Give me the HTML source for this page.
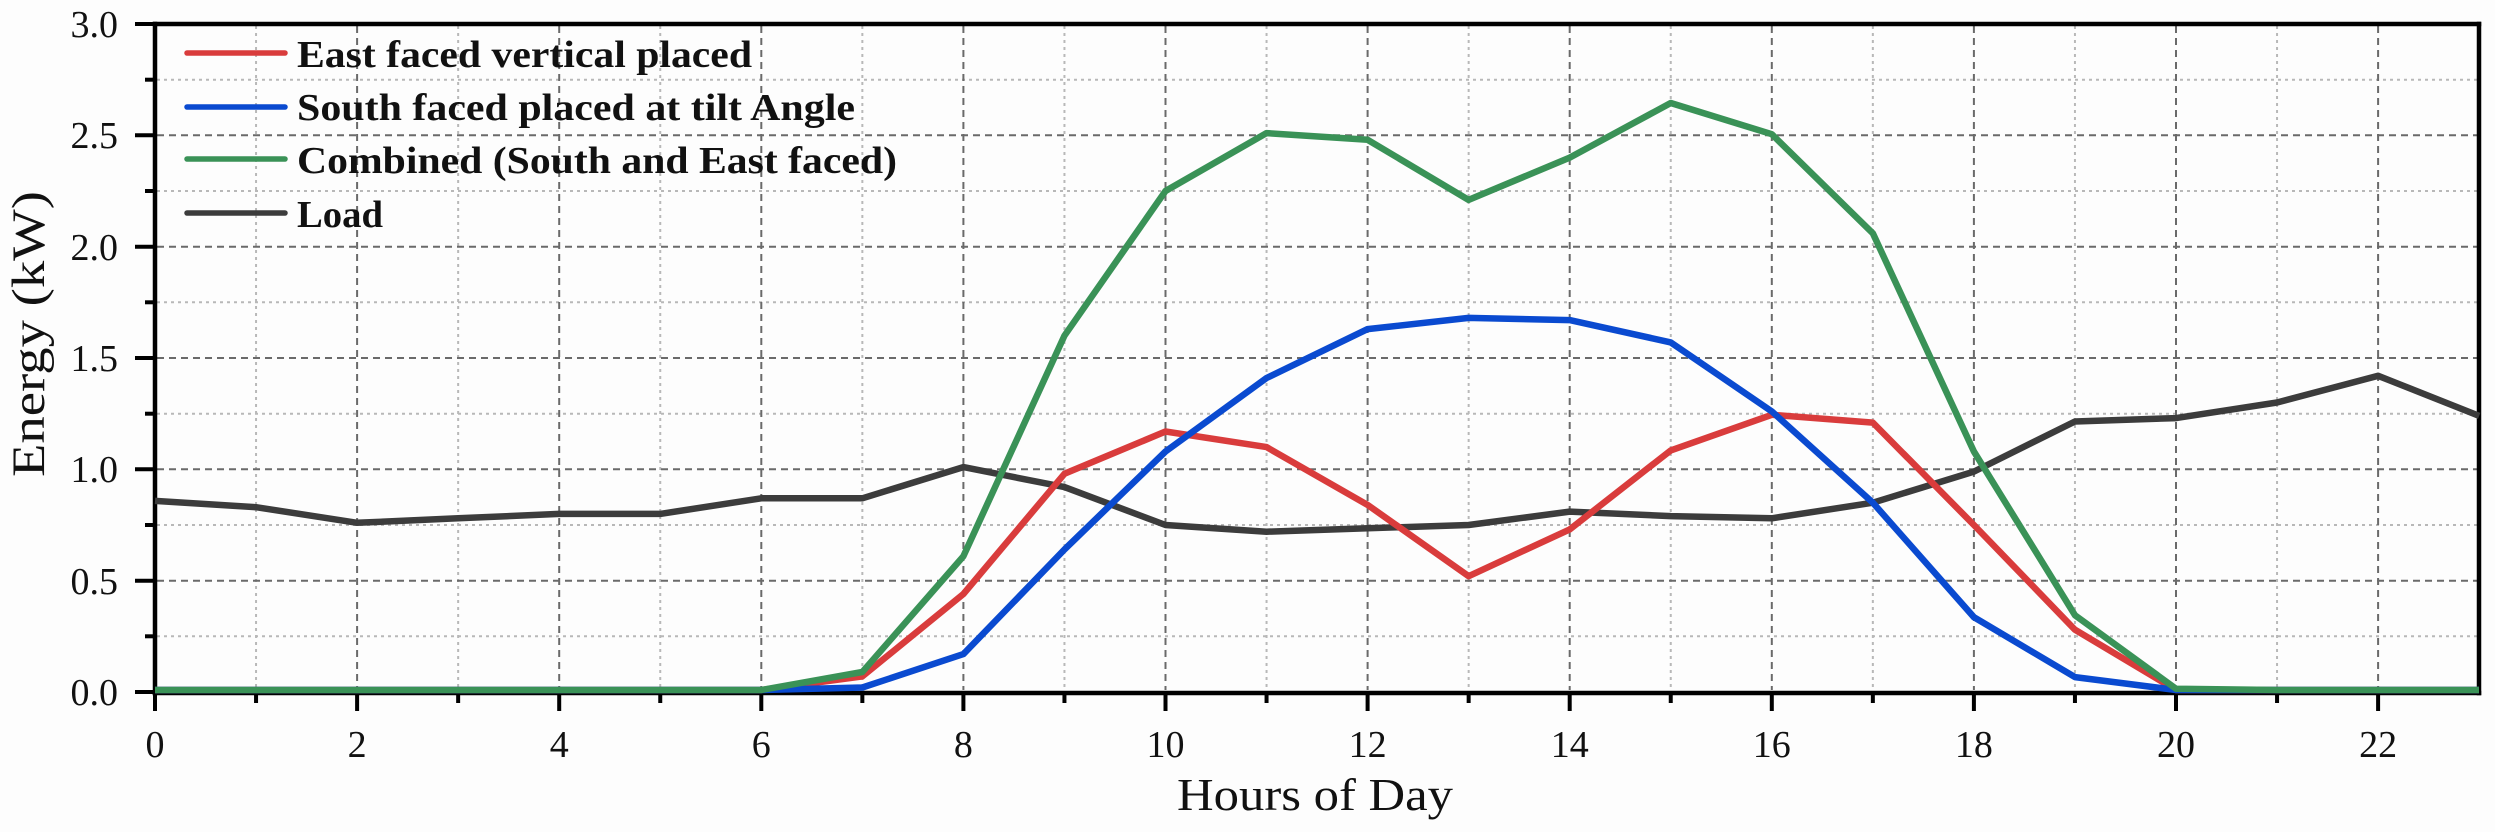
<!DOCTYPE html>
<html>
<head>
<meta charset="utf-8">
<style>
  html, body { margin:0; padding:0; background:#ffffff; }
  svg { display:block; }
  text { font-family: "Liberation Serif", "Times New Roman", serif; fill:#111; }
</style>
</head>
<body>
<svg width="2495" height="832" viewBox="0 0 2495 832" xmlns="http://www.w3.org/2000/svg">
  <rect x="0" y="0" width="2495" height="832" fill="#fdfdfd"/>

  <!-- minor vertical grid (odd hours) -->
  <g stroke="#b8b8b8" stroke-width="2" stroke-dasharray="3 4" fill="none">
    <line x1="256.05" y1="26" x2="256.05" y2="690"/>
    <line x1="458.15" y1="26" x2="458.15" y2="690"/>
    <line x1="660.25" y1="26" x2="660.25" y2="690"/>
    <line x1="862.35" y1="26" x2="862.35" y2="690"/>
    <line x1="1064.45" y1="26" x2="1064.45" y2="690"/>
    <line x1="1266.55" y1="26" x2="1266.55" y2="690"/>
    <line x1="1468.65" y1="26" x2="1468.65" y2="690"/>
    <line x1="1670.75" y1="26" x2="1670.75" y2="690"/>
    <line x1="1872.85" y1="26" x2="1872.85" y2="690"/>
    <line x1="2074.95" y1="26" x2="2074.95" y2="690"/>
    <line x1="2277.05" y1="26" x2="2277.05" y2="690"/>
  </g>
  <!-- minor horizontal grid -->
  <g stroke="#b8b8b8" stroke-width="2" stroke-dasharray="3 4" fill="none">
    <line x1="157" y1="636.3" x2="2477" y2="636.3"/>
    <line x1="157" y1="525.0" x2="2477" y2="525.0"/>
    <line x1="157" y1="413.7" x2="2477" y2="413.7"/>
    <line x1="157" y1="302.3" x2="2477" y2="302.3"/>
    <line x1="157" y1="191.0" x2="2477" y2="191.0"/>
    <line x1="157" y1="79.7" x2="2477" y2="79.7"/>
  </g>
  <!-- major vertical grid (even hours) -->
  <g stroke="#6a6a6a" stroke-width="2" stroke-dasharray="7 5" fill="none">
    <line x1="357.1" y1="26" x2="357.1" y2="690"/>
    <line x1="559.2" y1="26" x2="559.2" y2="690"/>
    <line x1="761.3" y1="26" x2="761.3" y2="690"/>
    <line x1="963.4" y1="26" x2="963.4" y2="690"/>
    <line x1="1165.5" y1="26" x2="1165.5" y2="690"/>
    <line x1="1367.6" y1="26" x2="1367.6" y2="690"/>
    <line x1="1569.7" y1="26" x2="1569.7" y2="690"/>
    <line x1="1771.8" y1="26" x2="1771.8" y2="690"/>
    <line x1="1973.9" y1="26" x2="1973.9" y2="690"/>
    <line x1="2176" y1="26" x2="2176" y2="690"/>
    <line x1="2378.1" y1="26" x2="2378.1" y2="690"/>
  </g>
  <!-- major horizontal grid -->
  <g stroke="#6a6a6a" stroke-width="2" stroke-dasharray="7 5" fill="none">
    <line x1="157" y1="580.7" x2="2477" y2="580.7"/>
    <line x1="157" y1="469.3" x2="2477" y2="469.3"/>
    <line x1="157" y1="358.0" x2="2477" y2="358.0"/>
    <line x1="157" y1="246.7" x2="2477" y2="246.7"/>
    <line x1="157" y1="135.3" x2="2477" y2="135.3"/>
  </g>

  <!-- axes frame -->
  <g stroke="#000" stroke-width="4.5" fill="none" stroke-linecap="square">
    <line x1="155" y1="24" x2="2479" y2="24"/>
    <line x1="2479" y1="24" x2="2479" y2="693"/>
    <line x1="155" y1="24" x2="155" y2="693"/>
    <line x1="155" y1="693" x2="2479" y2="693"/>
  </g>
  <!-- x ticks -->
  <g stroke="#000" stroke-width="4" fill="none">
    <line x1="155" y1="693" x2="155" y2="711"/>
    <line x1="357.1" y1="693" x2="357.1" y2="711"/>
    <line x1="559.2" y1="693" x2="559.2" y2="711"/>
    <line x1="761.3" y1="693" x2="761.3" y2="711"/>
    <line x1="963.4" y1="693" x2="963.4" y2="711"/>
    <line x1="1165.5" y1="693" x2="1165.5" y2="711"/>
    <line x1="1367.6" y1="693" x2="1367.6" y2="711"/>
    <line x1="1569.7" y1="693" x2="1569.7" y2="711"/>
    <line x1="1771.8" y1="693" x2="1771.8" y2="711"/>
    <line x1="1973.9" y1="693" x2="1973.9" y2="711"/>
    <line x1="2176" y1="693" x2="2176" y2="711"/>
    <line x1="2378.1" y1="693" x2="2378.1" y2="711"/>
    <line x1="256.05" y1="693" x2="256.05" y2="703"/>
    <line x1="458.15" y1="693" x2="458.15" y2="703"/>
    <line x1="660.25" y1="693" x2="660.25" y2="703"/>
    <line x1="862.35" y1="693" x2="862.35" y2="703"/>
    <line x1="1064.45" y1="693" x2="1064.45" y2="703"/>
    <line x1="1266.55" y1="693" x2="1266.55" y2="703"/>
    <line x1="1468.65" y1="693" x2="1468.65" y2="703"/>
    <line x1="1670.75" y1="693" x2="1670.75" y2="703"/>
    <line x1="1872.85" y1="693" x2="1872.85" y2="703"/>
    <line x1="2074.95" y1="693" x2="2074.95" y2="703"/>
    <line x1="2277.05" y1="693" x2="2277.05" y2="703"/>
  </g>
  <!-- y ticks -->
  <g stroke="#000" stroke-width="4" fill="none">
    <line x1="135" y1="692" x2="155" y2="692"/>
    <line x1="135" y1="580.7" x2="155" y2="580.7"/>
    <line x1="135" y1="469.3" x2="155" y2="469.3"/>
    <line x1="135" y1="358.0" x2="155" y2="358.0"/>
    <line x1="135" y1="246.7" x2="155" y2="246.7"/>
    <line x1="135" y1="135.3" x2="155" y2="135.3"/>
    <line x1="135" y1="24" x2="155" y2="24"/>
    <line x1="145" y1="636.3" x2="155" y2="636.3"/>
    <line x1="145" y1="525.0" x2="155" y2="525.0"/>
    <line x1="145" y1="413.7" x2="155" y2="413.7"/>
    <line x1="145" y1="302.3" x2="155" y2="302.3"/>
    <line x1="145" y1="191.0" x2="155" y2="191.0"/>
    <line x1="145" y1="79.7" x2="155" y2="79.7"/>
  </g>

  <!-- data series -->
  <g fill="none" stroke-width="6.5" stroke-linejoin="round" stroke-linecap="butt">
    <!-- Load -->
    <polyline stroke="#3c3c3c" points="155,500.9 256.05,507.2 357.1,522.8 458.15,518.3 559.2,513.9 660.25,513.9 761.3,498.3 862.35,498.3 963.4,467.1 1064.45,487.1 1165.5,525.0 1266.55,531.7 1367.6,528.3 1468.65,525.0 1569.7,511.6 1670.75,516.1 1771.8,518.3 1872.85,502.7 1973.9,471.6 2074.95,421.5 2176,418.1 2277.05,402.5 2378.1,375.8 2479.15,415.9"/>
    <!-- East (red) -->
    <polyline stroke="#d93c3c" points="155,690 761.3,690 862.35,676.4 963.4,594.0 1064.45,473.8 1165.5,431.5 1266.55,447.1 1367.6,504.9 1468.65,576.2 1569.7,529.4 1670.75,450.4 1771.8,414.8 1872.85,422.6 1973.9,525.0 2074.95,629.7 2176,690 2479,690"/>
    <!-- South (blue) -->
    <polyline stroke="#0a4ad0" points="155,690 761.3,690 862.35,687.5 963.4,654.1 1064.45,549.5 1165.5,451.5 1266.55,378.0 1367.6,329.1 1468.65,317.9 1569.7,320.1 1670.75,342.4 1771.8,411.4 1872.85,502.7 1973.9,617.2 2074.95,677.1 2176,690 2479,690"/>
    <!-- Combined (green) -->
    <polyline stroke="#3a9257" points="155,690 761.3,690 862.35,672.0 963.4,556.2 1064.45,335.7 1165.5,191.0 1266.55,133.1 1367.6,139.8 1468.65,199.9 1569.7,157.6 1670.75,103.0 1771.8,134.2 1872.85,233.3 1973.9,451.5 2074.95,615.2 2176,688.7 2277.05,690 2479,690"/>
  </g>

  <!-- legend -->
  <g stroke-width="5.5" stroke-linecap="round">
    <line x1="187" y1="53" x2="285" y2="53" stroke="#d93c3c"/>
    <line x1="187" y1="107" x2="285" y2="107" stroke="#0a4ad0"/>
    <line x1="187" y1="159" x2="285" y2="159" stroke="#3a9257"/>
    <line x1="187" y1="213" x2="285" y2="213" stroke="#3c3c3c"/>
  </g>
  <g font-size="38" font-weight="bold">
    <text x="297" y="67" textLength="455" lengthAdjust="spacingAndGlyphs">East faced vertical placed</text>
    <text x="297" y="120" textLength="558" lengthAdjust="spacingAndGlyphs">South faced placed at tilt Angle</text>
    <text x="297" y="173" textLength="600" lengthAdjust="spacingAndGlyphs">Combined (South and East faced)</text>
    <text x="297" y="227" textLength="86" lengthAdjust="spacingAndGlyphs">Load</text>
  </g>

  <!-- y tick labels -->
  <g font-size="38" text-anchor="end">
    <text x="118" y="705">0.0</text>
    <text x="118" y="594">0.5</text>
    <text x="118" y="482">1.0</text>
    <text x="118" y="371">1.5</text>
    <text x="118" y="260">2.0</text>
    <text x="118" y="148">2.5</text>
    <text x="118" y="37">3.0</text>
  </g>
  <!-- x tick labels -->
  <g font-size="38" text-anchor="middle">
    <text x="155" y="757">0</text>
    <text x="357.1" y="757">2</text>
    <text x="559.2" y="757">4</text>
    <text x="761.3" y="757">6</text>
    <text x="963.4" y="757">8</text>
    <text x="1165.5" y="757">10</text>
    <text x="1367.6" y="757">12</text>
    <text x="1569.7" y="757">14</text>
    <text x="1771.8" y="757">16</text>
    <text x="1973.9" y="757">18</text>
    <text x="2176" y="757">20</text>
    <text x="2378.1" y="757">22</text>
  </g>

  <!-- axis titles -->
  <text x="1177" y="810" font-size="46" textLength="276" lengthAdjust="spacingAndGlyphs">Hours of Day</text>
  <text transform="translate(44,477) rotate(-90)" x="0" y="0" font-size="47" textLength="286" lengthAdjust="spacingAndGlyphs">Energy (kW)</text>
</svg>
</body>
</html>
